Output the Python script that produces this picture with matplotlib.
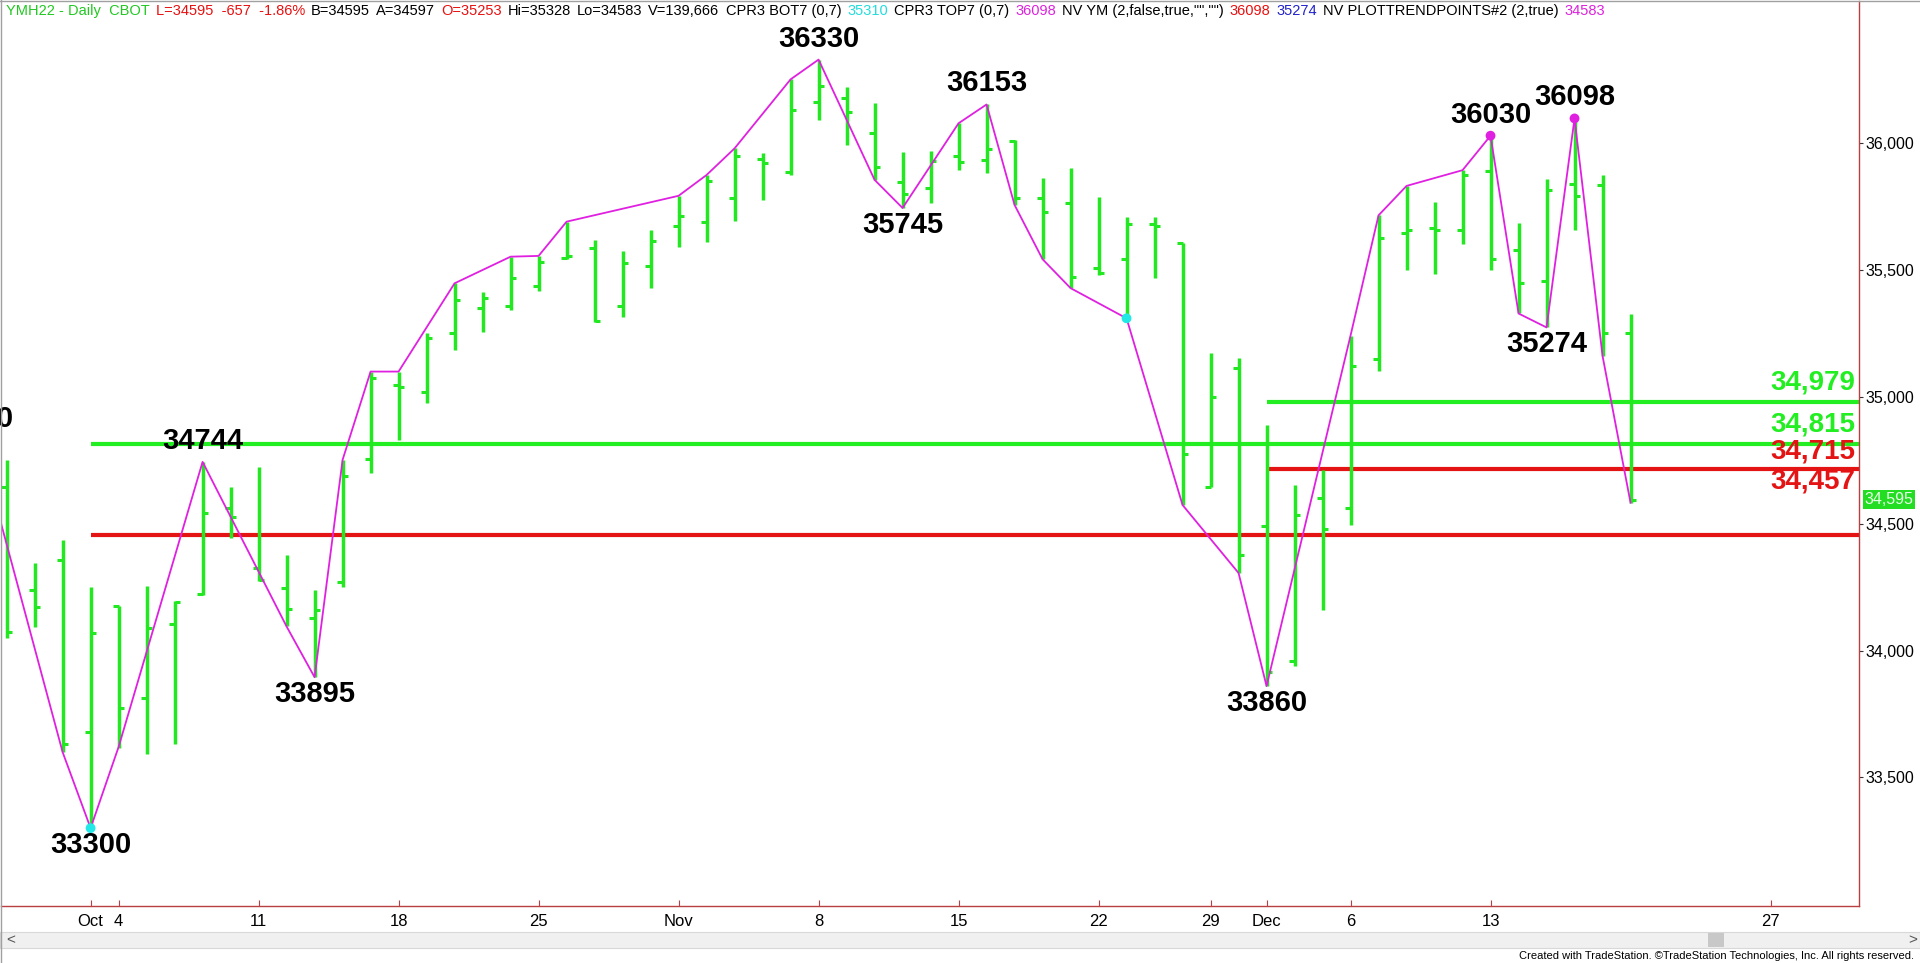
import matplotlib
matplotlib.use("Agg")
import matplotlib.pyplot as plt
import pandas as pd
import numpy as np

plt.rcParams['font.family'] = ['Liberation Sans', 'DejaVu Sans']

# ─────────────────────────
# data (YMH22 daily)
# ─────────────────────────
# session calendar incl. the empty future sessions shown on the axis
calendar = [d.strftime("%Y-%m-%d") for d in pd.bdate_range("2021-09-27", "2021-12-31")
            if d.strftime("%Y-%m-%d") != "2021-11-25"]
bar_dates = calendar[1:60]          # 2021-09-28 .. 2021-12-20

opens = [34643, 34239, 34356, 33679, 34174, 33812, 34104, 34222, 34564, 34327,
         34246, 34130, 34272, 34756, 35047, 35021, 35251, 35352, 35358, 35437,
         35548, 35586, 35360, 35517, 35675, 35688, 35783, 35938, 35888, 36164,
         36178, 36040, 35849, 35823, 35950, 35935, 36011, 35783, 35764, 35510,
         35542, 35683, 35606, 34644, 35113, 34492, 33957, 34600, 34561, 35150,
         35647, 35665, 35657, 35891, 35580, 35456, 35840, 35835, 35253]
highs = [34752, 34344, 34434, 34250, 34174, 34256, 34196, 34744, 34644, 34725,
         34375, 34237, 34752, 35100, 35100, 35251, 35448, 35412, 35553, 35556,
         35691, 35619, 35577, 35658, 35793, 35875, 35980, 35963, 36252, 36330,
         36221, 36158, 35965, 35971, 36079, 36153, 36013, 35865, 35902, 35787,
         35711, 35711, 35606, 35175, 35155, 34891, 34651, 34710, 35242, 35716,
         35832, 35767, 35894, 36030, 35684, 35861, 36098, 35876, 35328]
lows = [34049, 34092, 33600, 33300, 33615, 33593, 33632, 34219, 34445, 34275,
        34095, 33895, 34252, 34699, 34830, 34975, 35185, 35257, 35343, 35418,
        35545, 35297, 35316, 35431, 35592, 35612, 35693, 35776, 35875, 36092,
        35994, 35856, 35745, 35764, 35895, 35882, 35757, 35543, 35429, 35480,
        35310, 35468, 34574, 34644, 34306, 33860, 33940, 34160, 34495, 35103,
        35500, 35485, 35603, 35500, 35329, 35274, 35657, 35162, 34583]
closes = [34075, 34171, 33630, 34068, 33773, 34088, 34193, 34541, 34528, 34279,
          34163, 34160, 34689, 35073, 35038, 35234, 35382, 35389, 35468, 35533,
          35556, 35299, 35527, 35616, 35715, 35851, 35950, 35921, 36131, 36226,
          36125, 35908, 35800, 35931, 35925, 35978, 35783, 35731, 35472, 35488,
          35683, 35675, 34774, 34999, 34377, 33915, 34535, 34479, 35121, 35628,
          35657, 35657, 35876, 35544, 35449, 35815, 35791, 35252, 34595]

# swing line (NV YM)
zz_dates = ["2021-09-27", "2021-09-30", "2021-10-01", "2021-10-04", "2021-10-07",
            "2021-10-12", "2021-10-13", "2021-10-14", "2021-10-15", "2021-10-18",
            "2021-10-20", "2021-10-22", "2021-10-25", "2021-10-26", "2021-11-01",
            "2021-11-02", "2021-11-03", "2021-11-05", "2021-11-08", "2021-11-10",
            "2021-11-11", "2021-11-15", "2021-11-16", "2021-11-17", "2021-11-18",
            "2021-11-19", "2021-11-23", "2021-11-26", "2021-11-30", "2021-12-01",
            "2021-12-06", "2021-12-07", "2021-12-08", "2021-12-10", "2021-12-13",
            "2021-12-14", "2021-12-15", "2021-12-16", "2021-12-17", "2021-12-20"]
zz_values = [34830, 33600, 33300, 33620, 34744, 34095, 33895, 34752, 35100, 35100,
             35448, 35553, 35556, 35691, 35793, 35875, 35980, 36252, 36330, 35856,
             35745, 36079, 36153, 35757, 35543, 35429, 35310, 34574, 34306, 33860,
             35242, 35716, 35832, 35894, 36030, 35329, 35274, 36098, 35162, 34583]

# labelled pivots
piv_dates = ["2021-09-27", "2021-10-01", "2021-10-07", "2021-10-13", "2021-11-08",
             "2021-11-11", "2021-11-16", "2021-12-01", "2021-12-13", "2021-12-15",
             "2021-12-16"]
piv_values = [34830, 33300, 34744, 33895, 36330, 35745, 36153, 33860, 36030, 35274, 36098]
piv_is_high = [True, False, True, False, True, False, True, False, True, False, True]

# trend-point dots
dot_dates = ["2021-10-01", "2021-11-23", "2021-12-13", "2021-12-16"]
dot_values = [33300, 35310, 36030, 36098]
dot_colors = ["#22E8E8", "#22E8E8", "#E020E0", "#E020E0"]

# support / resistance levels
level_values = [34979, 34815, 34715, 34457]
level_starts = ["2021-12-01", "2021-10-01", "2021-12-01", "2021-10-01"]
level_colors = ["#22EE22", "#22EE22", "#E41414", "#E41414"]
level_label_dy = [20, 19, 18, 53]      # px above the line

tick_dates = ["2021-10-01", "2021-10-04", "2021-10-11", "2021-10-18", "2021-10-25",
              "2021-11-01", "2021-11-08", "2021-11-15", "2021-11-22", "2021-11-29",
              "2021-12-01", "2021-12-06", "2021-12-13", "2021-12-27"]
tick_labels = ["Oct", "4", "11", "18", "25", "Nov", "8", "15", "22", "29",
               "Dec", "6", "13", "27"]
y_ticks = [33500, 34000, 34500, 35000, 35500, 36000]

idx = {d: i for i, d in enumerate(calendar)}
GREEN = "#22E822"
MAGENTA = "#E020E0"
SPINE = "#B84040"

# ─────────────────────────
# figure
# ─────────────────────────
W, H = 1920, 963
fig = plt.figure(figsize=(W / 100, H / 100), dpi=100)
ax = fig.add_axes([1 / W, 57 / H, 1858 / W, 905 / H])

x = np.array([idx[d] for d in bar_dates], dtype=float)
tick = 0.21
ax.vlines(x, lows, highs, color=GREEN, lw=2.5, zorder=3)
ax.hlines(opens, x - tick, x, color=GREEN, lw=2.2, zorder=3)
ax.hlines(closes, x, x + tick, color=GREEN, lw=2.2, zorder=3)

x_end = 67.16
for v, s, c, dy in zip(level_values, level_starts, level_colors, level_label_dy):
    ax.hlines(v, idx[s], x_end, color=c, lw=3.0, zorder=2)
    ax.annotate(f"{v:,}", xy=(1.0, v), xycoords=ax.get_yaxis_transform(),
                xytext=(-4 * 0.72, dy * 0.72), textcoords="offset points",
                ha="right", va="center", fontsize=20, fontweight="bold", color=c,
                zorder=5)

zx = [idx[d] for d in zz_dates]
ax.plot(zx, zz_values, color=MAGENTA, lw=1.3, zorder=4)

ax.scatter([idx[d] for d in dot_dates], dot_values, s=50, c=dot_colors, zorder=6,
           linewidths=0)

for d, v, hi in zip(piv_dates, piv_values, piv_is_high):
    dx = -6 if d == calendar[0] else 0      # first label sits mostly off the left edge
    t = ax.annotate(str(v), xy=(idx[d], v),
                    xytext=(dx * 0.72, (21 if hi else -17) * 0.72),
                    textcoords="offset points", ha="center", va="center",
                    fontsize=21, fontweight="bold", color="black", zorder=7,
                    annotation_clip=False)
    t.set_clip_on(True)

ax.set_xlim(0.8, x_end)
ax.set_ylim(32993, 36561)

# axes styling
for s in ("left", "top"):
    ax.spines[s].set_visible(False)
for s in ("right", "bottom"):
    ax.spines[s].set_color(SPINE)
    ax.spines[s].set_linewidth(1.0)

ax.yaxis.tick_right()
ax.set_yticks(y_ticks)
ax.set_yticklabels([f"{v:,}" for v in y_ticks])
ax.tick_params(axis="y", direction="out", length=3, width=0.8, color="#333333",
               pad=2, labelsize=11.5)
ax.set_xticks([idx[d] for d in tick_dates])
ax.set_xticklabels(tick_labels, fontsize=12)
ax.tick_params(axis="x", direction="in", length=4, width=0.8, color=SPINE, pad=6)

# last price box on the price scale
last = closes[-1]
ax.text(1.003, last, f"{last:,}", transform=ax.get_yaxis_transform(), ha="left",
        va="center", fontsize=11.5, color="#E8FFE8", zorder=8, clip_on=False,
        bbox=dict(boxstyle="square,pad=0.12", fc="#22DD22", ec="none"))

# header line: pieces laid out left to right, never overlapping
header = [("YMH22 - Daily  CBOT", "#22C822", 3), ("L=34595  -657  -1.86%", "#E81010", 133),
          ("B=34595", "black", 274), ("A=34597", "black", 332), ("O=35253", "#E81010", 390),
          ("Hi=35328", "black", 451), ("Lo=34583", "black", 513), ("V=139,666", "black", 576),
          ("CPR3 BOT7 (0,7)", "black", 646), ("35310", "#22DDDD", 757),
          ("CPR3 TOP7 (0,7)", "black", 796), ("36098", "#DD22DD", 905),
          ('NV YM (2,false,true,"","")', "black", 952), ("36098", "#E81010", 1097),
          ("35274", "#2222CC", 1139), ("NV PLOTTRENDPOINTS#2 (2,true)", "black", 1179),
          ("34583", "#DD22DD", 1384)]
renderer = fig.canvas.get_renderer()
cursor = 0
for txt, col, px in header:
    px = max(px, cursor + 6)
    t = fig.text(px / W, 1 - 11 / H, txt, color=col, fontsize=10.5,
                 ha="left", va="center")
    cursor = t.get_window_extent(renderer).x1

# scrollbar + frame + footer
fig.patches.append(plt.Rectangle((0, 1 - 948 / H), 1, 16 / H, transform=fig.transFigure,
                                 fc="#F0F0F0", ec="#D8D8D8", lw=0.8))
fig.patches.append(plt.Rectangle((1708 / W, 1 - 947 / H), 16 / W, 14 / H,
                                 transform=fig.transFigure, fc="#C8C8C8", ec="none"))
fig.text(6 / W, 1 - 940 / H, "<", fontsize=11, color="#555555", va="center")
fig.text(1908 / W, 1 - 940 / H, ">", fontsize=11, color="#555555", va="center")
fig.lines.append(plt.Line2D([1 / W, 1 / W], [0.0, 1.0], transform=fig.transFigure,
                            color="#A0A0A0", lw=1))
fig.lines.append(plt.Line2D([0, 1], [1 - 1 / H, 1 - 1 / H], transform=fig.transFigure,
                            color="#A0A0A0", lw=1))
fig.text(1 - 6 / W, 1 - 956 / H,
         "Created with TradeStation. \u00a9TradeStation Technologies, Inc. All rights reserved.",
         fontsize=8, ha="right", va="center")

fig.savefig("out.png", dpi=100)
